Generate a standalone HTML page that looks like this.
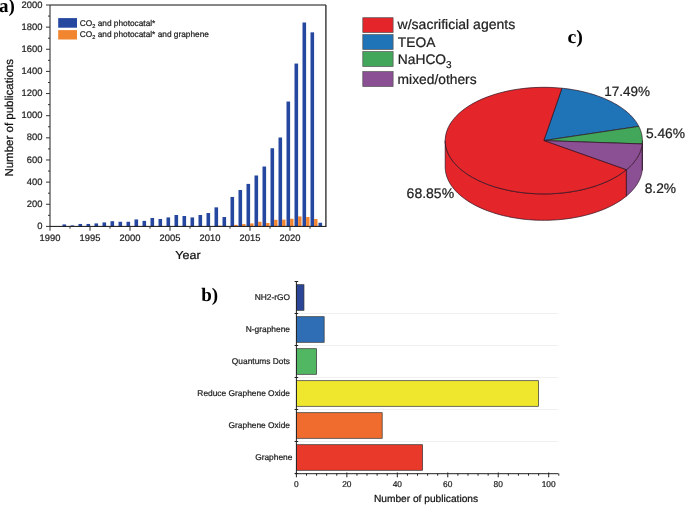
<!DOCTYPE html>
<html><head><meta charset="utf-8"><style>
html,body{margin:0;padding:0;background:#fff;}
body{width:685px;height:505px;overflow:hidden;}
svg{display:block;}
text{text-rendering:geometricPrecision;}
.s{stroke-width:0.22px;}
</style></head><body>
<svg width="685" height="505" viewBox="0 0 685 505">
<rect width="685" height="505" fill="#fff"/>
<rect x="62.50" y="224.41" width="3.6" height="1.99" fill="#2647a0"/>
<rect x="70.50" y="225.40" width="3.6" height="1.00" fill="#2647a0"/>
<rect x="78.50" y="223.96" width="3.6" height="2.44" fill="#2647a0"/>
<rect x="86.50" y="223.96" width="3.6" height="2.44" fill="#2647a0"/>
<rect x="94.50" y="223.41" width="3.6" height="2.99" fill="#2647a0"/>
<rect x="102.50" y="222.41" width="3.6" height="3.99" fill="#2647a0"/>
<rect x="110.50" y="221.20" width="3.6" height="5.20" fill="#2647a0"/>
<rect x="118.50" y="221.75" width="3.6" height="4.65" fill="#2647a0"/>
<rect x="126.50" y="221.75" width="3.6" height="4.65" fill="#2647a0"/>
<rect x="134.50" y="219.43" width="3.6" height="6.97" fill="#2647a0"/>
<rect x="142.50" y="220.87" width="3.6" height="5.54" fill="#2647a0"/>
<rect x="150.50" y="217.99" width="3.6" height="8.41" fill="#2647a0"/>
<rect x="158.50" y="218.98" width="3.6" height="7.42" fill="#2647a0"/>
<rect x="166.50" y="217.43" width="3.6" height="8.97" fill="#2647a0"/>
<rect x="174.50" y="215.00" width="3.6" height="11.40" fill="#2647a0"/>
<rect x="182.50" y="215.99" width="3.6" height="10.41" fill="#2647a0"/>
<rect x="190.50" y="217.43" width="3.6" height="8.97" fill="#2647a0"/>
<rect x="198.50" y="215.00" width="3.6" height="11.40" fill="#2647a0"/>
<rect x="206.50" y="213.01" width="3.6" height="13.39" fill="#2647a0"/>
<rect x="214.50" y="207.36" width="3.6" height="19.04" fill="#2647a0"/>
<rect x="222.50" y="216.99" width="3.6" height="9.41" fill="#2647a0"/>
<rect x="230.50" y="196.95" width="3.6" height="29.45" fill="#2647a0"/>
<rect x="238.50" y="189.98" width="3.6" height="36.42" fill="#2647a0"/>
<rect x="246.50" y="183.89" width="3.6" height="42.51" fill="#2647a0"/>
<rect x="254.50" y="175.48" width="3.6" height="50.92" fill="#2647a0"/>
<rect x="262.50" y="166.51" width="3.6" height="59.89" fill="#2647a0"/>
<rect x="270.50" y="148.25" width="3.6" height="78.15" fill="#2647a0"/>
<rect x="278.50" y="137.51" width="3.6" height="88.89" fill="#2647a0"/>
<rect x="286.50" y="101.53" width="3.6" height="124.87" fill="#2647a0"/>
<rect x="294.50" y="63.56" width="3.6" height="162.84" fill="#2647a0"/>
<rect x="302.50" y="22.49" width="3.6" height="203.91" fill="#2647a0"/>
<rect x="310.50" y="32.34" width="3.6" height="194.06" fill="#2647a0"/>
<rect x="318.50" y="222.75" width="3.6" height="3.65" fill="#2647a0"/>
<rect x="218.10" y="225.63" width="3.4" height="0.77" fill="#f28630"/>
<rect x="234.10" y="224.85" width="3.4" height="1.55" fill="#f28630"/>
<rect x="242.10" y="224.08" width="3.4" height="2.32" fill="#f28630"/>
<rect x="250.10" y="223.41" width="3.4" height="2.99" fill="#f28630"/>
<rect x="258.10" y="221.75" width="3.4" height="4.65" fill="#f28630"/>
<rect x="266.10" y="222.97" width="3.4" height="3.43" fill="#f28630"/>
<rect x="274.10" y="219.76" width="3.4" height="6.64" fill="#f28630"/>
<rect x="282.10" y="219.65" width="3.4" height="6.75" fill="#f28630"/>
<rect x="290.10" y="218.76" width="3.4" height="7.64" fill="#f28630"/>
<rect x="298.10" y="216.44" width="3.4" height="9.96" fill="#f28630"/>
<rect x="306.10" y="216.99" width="3.4" height="9.41" fill="#f28630"/>
<rect x="314.10" y="218.98" width="3.4" height="7.42" fill="#f28630"/>
<line x1="50.0" y1="5.0" x2="326.0" y2="5.0" stroke="#111" stroke-width="1.2"/>
<line x1="325.9" y1="5.0" x2="325.9" y2="226.4" stroke="#333" stroke-width="1.4"/>
<line x1="50.0" y1="5.0" x2="50.0" y2="226.4" stroke="#333" stroke-width="1.1"/>
<line x1="50.0" y1="226.4" x2="326.4" y2="226.4" stroke="#111" stroke-width="1"/>
<line x1="46.0" y1="226.40" x2="50.0" y2="226.40" stroke="#333" stroke-width="1"/>
<text x="42.4" y="229.00" text-anchor="end" font-size="9.4" fill="#222" stroke="#222" class="s" font-family="Liberation Sans, Arial, sans-serif">0</text>
<line x1="48.0" y1="215.33" x2="50.0" y2="215.33" stroke="#333" stroke-width="1"/>
<line x1="46.0" y1="204.26" x2="50.0" y2="204.26" stroke="#333" stroke-width="1"/>
<text x="42.4" y="206.86" text-anchor="end" font-size="9.4" fill="#222" stroke="#222" class="s" font-family="Liberation Sans, Arial, sans-serif">200</text>
<line x1="48.0" y1="193.19" x2="50.0" y2="193.19" stroke="#333" stroke-width="1"/>
<line x1="46.0" y1="182.12" x2="50.0" y2="182.12" stroke="#333" stroke-width="1"/>
<text x="42.4" y="184.72" text-anchor="end" font-size="9.4" fill="#222" stroke="#222" class="s" font-family="Liberation Sans, Arial, sans-serif">400</text>
<line x1="48.0" y1="171.05" x2="50.0" y2="171.05" stroke="#333" stroke-width="1"/>
<line x1="46.0" y1="159.98" x2="50.0" y2="159.98" stroke="#333" stroke-width="1"/>
<text x="42.4" y="162.58" text-anchor="end" font-size="9.4" fill="#222" stroke="#222" class="s" font-family="Liberation Sans, Arial, sans-serif">600</text>
<line x1="48.0" y1="148.91" x2="50.0" y2="148.91" stroke="#333" stroke-width="1"/>
<line x1="46.0" y1="137.84" x2="50.0" y2="137.84" stroke="#333" stroke-width="1"/>
<text x="42.4" y="140.44" text-anchor="end" font-size="9.4" fill="#222" stroke="#222" class="s" font-family="Liberation Sans, Arial, sans-serif">800</text>
<line x1="48.0" y1="126.77" x2="50.0" y2="126.77" stroke="#333" stroke-width="1"/>
<line x1="46.0" y1="115.70" x2="50.0" y2="115.70" stroke="#333" stroke-width="1"/>
<text x="42.4" y="118.30" text-anchor="end" font-size="9.4" fill="#222" stroke="#222" class="s" font-family="Liberation Sans, Arial, sans-serif">1000</text>
<line x1="48.0" y1="104.63" x2="50.0" y2="104.63" stroke="#333" stroke-width="1"/>
<line x1="46.0" y1="93.56" x2="50.0" y2="93.56" stroke="#333" stroke-width="1"/>
<text x="42.4" y="96.16" text-anchor="end" font-size="9.4" fill="#222" stroke="#222" class="s" font-family="Liberation Sans, Arial, sans-serif">1200</text>
<line x1="48.0" y1="82.49" x2="50.0" y2="82.49" stroke="#333" stroke-width="1"/>
<line x1="46.0" y1="71.42" x2="50.0" y2="71.42" stroke="#333" stroke-width="1"/>
<text x="42.4" y="74.02" text-anchor="end" font-size="9.4" fill="#222" stroke="#222" class="s" font-family="Liberation Sans, Arial, sans-serif">1400</text>
<line x1="48.0" y1="60.35" x2="50.0" y2="60.35" stroke="#333" stroke-width="1"/>
<line x1="46.0" y1="49.28" x2="50.0" y2="49.28" stroke="#333" stroke-width="1"/>
<text x="42.4" y="51.88" text-anchor="end" font-size="9.4" fill="#222" stroke="#222" class="s" font-family="Liberation Sans, Arial, sans-serif">1600</text>
<line x1="48.0" y1="38.21" x2="50.0" y2="38.21" stroke="#333" stroke-width="1"/>
<line x1="46.0" y1="27.14" x2="50.0" y2="27.14" stroke="#333" stroke-width="1"/>
<text x="42.4" y="29.74" text-anchor="end" font-size="9.4" fill="#222" stroke="#222" class="s" font-family="Liberation Sans, Arial, sans-serif">1800</text>
<line x1="48.0" y1="16.07" x2="50.0" y2="16.07" stroke="#333" stroke-width="1"/>
<line x1="46.0" y1="5.00" x2="50.0" y2="5.00" stroke="#333" stroke-width="1"/>
<text x="42.4" y="7.60" text-anchor="end" font-size="9.4" fill="#222" stroke="#222" class="s" font-family="Liberation Sans, Arial, sans-serif">2000</text>
<line x1="50.00" y1="226.4" x2="50.00" y2="230.8" stroke="#333" stroke-width="1"/>
<text x="50.00" y="241.3" text-anchor="middle" font-size="9.4" fill="#222" stroke="#222" class="s" font-family="Liberation Sans, Arial, sans-serif">1990</text>
<line x1="70.00" y1="226.4" x2="70.00" y2="228.70000000000002" stroke="#333" stroke-width="1"/>
<line x1="90.00" y1="226.4" x2="90.00" y2="230.8" stroke="#333" stroke-width="1"/>
<text x="90.00" y="241.3" text-anchor="middle" font-size="9.4" fill="#222" stroke="#222" class="s" font-family="Liberation Sans, Arial, sans-serif">1995</text>
<line x1="110.00" y1="226.4" x2="110.00" y2="228.70000000000002" stroke="#333" stroke-width="1"/>
<line x1="130.00" y1="226.4" x2="130.00" y2="230.8" stroke="#333" stroke-width="1"/>
<text x="130.00" y="241.3" text-anchor="middle" font-size="9.4" fill="#222" stroke="#222" class="s" font-family="Liberation Sans, Arial, sans-serif">2000</text>
<line x1="150.00" y1="226.4" x2="150.00" y2="228.70000000000002" stroke="#333" stroke-width="1"/>
<line x1="170.00" y1="226.4" x2="170.00" y2="230.8" stroke="#333" stroke-width="1"/>
<text x="170.00" y="241.3" text-anchor="middle" font-size="9.4" fill="#222" stroke="#222" class="s" font-family="Liberation Sans, Arial, sans-serif">2005</text>
<line x1="190.00" y1="226.4" x2="190.00" y2="228.70000000000002" stroke="#333" stroke-width="1"/>
<line x1="210.00" y1="226.4" x2="210.00" y2="230.8" stroke="#333" stroke-width="1"/>
<text x="210.00" y="241.3" text-anchor="middle" font-size="9.4" fill="#222" stroke="#222" class="s" font-family="Liberation Sans, Arial, sans-serif">2010</text>
<line x1="230.00" y1="226.4" x2="230.00" y2="228.70000000000002" stroke="#333" stroke-width="1"/>
<line x1="250.00" y1="226.4" x2="250.00" y2="230.8" stroke="#333" stroke-width="1"/>
<text x="250.00" y="241.3" text-anchor="middle" font-size="9.4" fill="#222" stroke="#222" class="s" font-family="Liberation Sans, Arial, sans-serif">2015</text>
<line x1="270.00" y1="226.4" x2="270.00" y2="228.70000000000002" stroke="#333" stroke-width="1"/>
<line x1="290.00" y1="226.4" x2="290.00" y2="230.8" stroke="#333" stroke-width="1"/>
<text x="290.00" y="241.3" text-anchor="middle" font-size="9.4" fill="#222" stroke="#222" class="s" font-family="Liberation Sans, Arial, sans-serif">2020</text>
<line x1="310.00" y1="226.4" x2="310.00" y2="228.70000000000002" stroke="#333" stroke-width="1"/>
<text x="188" y="258.8" text-anchor="middle" font-size="11.6" textLength="25.3" lengthAdjust="spacingAndGlyphs" fill="#111" stroke="#111" class="s" font-family="Liberation Sans, Arial, sans-serif">Year</text>
<text transform="translate(13.0,117.8) rotate(-90)" x="0" y="0" text-anchor="middle" font-size="11.5" fill="#111" stroke="#111" class="s" font-family="Liberation Sans, Arial, sans-serif">Number of publications</text>
<rect x="58.2" y="18.1" width="18.8" height="9.6" fill="#2647a0"/>
<rect x="58.2" y="30.1" width="18.8" height="9.4" fill="#f28630"/>
<text x="79.8" y="26" font-size="8.3" fill="#222" stroke="#222" class="s" font-family="Liberation Sans, Arial, sans-serif">CO<tspan font-size="5.6" dy="2">2</tspan><tspan dy="-2"> and photocatal*</tspan></text>
<text x="79.8" y="37.2" font-size="8.3" fill="#222" stroke="#222" class="s" font-family="Liberation Sans, Arial, sans-serif">CO<tspan font-size="5.6" dy="2">2</tspan><tspan dy="-2"> and photocatal* and graphene</tspan></text>
<text x="-1" y="12.3" font-size="19" font-weight="bold" fill="#000" font-family="Liberation Serif, Times New Roman, serif">a)</text>
<path d="M642.40 140.60 L642.40 140.66 L642.40 140.71 L642.40 140.77 L642.40 140.82 L642.40 140.88 L642.40 140.93 L642.40 140.99 L642.40 141.05 L642.40 141.10 L642.39 141.16 L642.39 141.21 L642.39 141.27 L642.39 141.33 L642.39 141.38 L642.39 141.44 L642.39 141.49 L642.38 141.55 L642.38 141.60 L642.38 141.66 L642.38 141.72 L642.38 141.77 L642.37 141.83 L642.37 141.88 L642.37 141.94 L642.37 142.00 L642.36 142.05 L642.36 142.11 L642.36 142.16 L642.35 142.22 L642.35 142.27 L642.35 142.33 L642.34 142.39 L642.34 142.44 L642.34 142.50 L642.33 142.55 L642.33 142.61 L642.33 142.66 L642.32 142.72 L642.32 142.78 L642.31 142.83 L642.31 142.89 L642.30 142.94 L642.30 143.00 L642.30 143.06 L642.29 143.11 L642.29 143.17 L642.28 143.22 L642.28 143.28 L642.27 143.33 L642.26 143.39 L642.26 143.45 L642.25 143.50 L642.25 143.56 L642.24 143.61 L642.24 143.67 L642.23 143.72 L642.22 143.78 L642.22 143.84 L642.21 143.89 L642.21 143.95 L642.21 170.35 L642.21 170.29 L642.22 170.24 L642.22 170.18 L642.23 170.12 L642.24 170.07 L642.24 170.01 L642.25 169.96 L642.25 169.90 L642.26 169.85 L642.26 169.79 L642.27 169.73 L642.28 169.68 L642.28 169.62 L642.29 169.57 L642.29 169.51 L642.30 169.46 L642.30 169.40 L642.30 169.34 L642.31 169.29 L642.31 169.23 L642.32 169.18 L642.32 169.12 L642.33 169.06 L642.33 169.01 L642.33 168.95 L642.34 168.90 L642.34 168.84 L642.34 168.79 L642.35 168.73 L642.35 168.67 L642.35 168.62 L642.36 168.56 L642.36 168.51 L642.36 168.45 L642.37 168.40 L642.37 168.34 L642.37 168.28 L642.37 168.23 L642.38 168.17 L642.38 168.12 L642.38 168.06 L642.38 168.00 L642.38 167.95 L642.39 167.89 L642.39 167.84 L642.39 167.78 L642.39 167.73 L642.39 167.67 L642.39 167.61 L642.39 167.56 L642.40 167.50 L642.40 167.45 L642.40 167.39 L642.40 167.33 L642.40 167.28 L642.40 167.22 L642.40 167.17 L642.40 167.11 L642.40 167.06 L642.40 167.00Z" fill="#42a75a" stroke="#2a1020" stroke-width="0.7" stroke-linejoin="round"/>
<path d="M642.21 143.95 L642.15 144.40 L642.08 144.86 L642.01 145.32 L641.93 145.78 L641.85 146.23 L641.75 146.69 L641.65 147.14 L641.55 147.60 L641.43 148.05 L641.31 148.51 L641.18 148.96 L641.04 149.42 L640.90 149.87 L640.75 150.32 L640.59 150.77 L640.42 151.22 L640.25 151.67 L640.07 152.12 L639.88 152.57 L639.69 153.01 L639.49 153.46 L639.28 153.90 L639.06 154.35 L638.84 154.79 L638.61 155.23 L638.38 155.67 L638.13 156.11 L637.88 156.55 L637.62 156.99 L637.36 157.42 L637.09 157.86 L636.81 158.29 L636.52 158.72 L636.23 159.16 L635.93 159.59 L635.63 160.01 L635.31 160.44 L635.00 160.87 L634.67 161.29 L634.34 161.71 L634.00 162.13 L633.65 162.55 L633.30 162.97 L632.94 163.38 L632.57 163.80 L632.20 164.21 L631.82 164.62 L631.43 165.03 L631.04 165.44 L630.64 165.84 L630.24 166.24 L629.83 166.65 L629.41 167.05 L628.98 167.44 L628.55 167.84 L628.12 168.23 L627.67 168.62 L627.22 169.01 L626.77 169.40 L626.30 169.79 L626.30 196.19 L626.77 195.80 L627.22 195.41 L627.67 195.02 L628.12 194.63 L628.55 194.24 L628.98 193.84 L629.41 193.45 L629.83 193.05 L630.24 192.64 L630.64 192.24 L631.04 191.84 L631.43 191.43 L631.82 191.02 L632.20 190.61 L632.57 190.20 L632.94 189.78 L633.30 189.37 L633.65 188.95 L634.00 188.53 L634.34 188.11 L634.67 187.69 L635.00 187.27 L635.31 186.84 L635.63 186.41 L635.93 185.99 L636.23 185.56 L636.52 185.12 L636.81 184.69 L637.09 184.26 L637.36 183.82 L637.62 183.39 L637.88 182.95 L638.13 182.51 L638.38 182.07 L638.61 181.63 L638.84 181.19 L639.06 180.75 L639.28 180.30 L639.49 179.86 L639.69 179.41 L639.88 178.97 L640.07 178.52 L640.25 178.07 L640.42 177.62 L640.59 177.17 L640.75 176.72 L640.90 176.27 L641.04 175.82 L641.18 175.36 L641.31 174.91 L641.43 174.45 L641.55 174.00 L641.65 173.54 L641.75 173.09 L641.85 172.63 L641.93 172.18 L642.01 171.72 L642.08 171.26 L642.15 170.80 L642.21 170.35Z" fill="#8b4f93" stroke="#2a1020" stroke-width="0.7" stroke-linejoin="round"/>
<path d="M626.30 169.79 L623.92 171.66 L621.40 173.48 L618.73 175.24 L615.93 176.94 L612.99 178.57 L609.93 180.13 L606.75 181.62 L603.45 183.04 L600.04 184.38 L596.54 185.64 L592.93 186.81 L589.24 187.90 L585.46 188.91 L581.61 189.83 L577.68 190.65 L573.70 191.39 L569.66 192.03 L565.58 192.58 L561.45 193.04 L557.30 193.40 L553.11 193.66 L548.91 193.83 L544.71 193.90 L540.50 193.87 L536.29 193.75 L532.10 193.52 L527.93 193.21 L523.79 192.79 L519.69 192.28 L515.63 191.68 L511.62 190.98 L507.67 190.19 L503.79 189.31 L499.98 188.35 L496.25 187.29 L492.60 186.15 L489.05 184.93 L485.60 183.63 L482.26 182.24 L479.03 180.79 L475.91 179.25 L472.92 177.65 L470.06 175.98 L467.33 174.25 L464.74 172.45 L462.30 170.60 L460.01 168.69 L457.86 166.73 L455.88 164.73 L454.05 162.67 L452.39 160.58 L450.90 158.46 L449.57 156.30 L448.42 154.11 L447.44 151.89 L446.63 149.66 L446.01 147.41 L445.56 145.15 L445.29 142.88 L445.20 140.60 L445.20 167.00 L445.29 169.28 L445.56 171.55 L446.01 173.81 L446.63 176.06 L447.44 178.29 L448.42 180.51 L449.57 182.70 L450.90 184.86 L452.39 186.98 L454.05 189.07 L455.88 191.13 L457.86 193.13 L460.01 195.09 L462.30 197.00 L464.74 198.85 L467.33 200.65 L470.06 202.38 L472.92 204.05 L475.91 205.65 L479.03 207.19 L482.26 208.64 L485.60 210.03 L489.05 211.33 L492.60 212.55 L496.25 213.69 L499.98 214.75 L503.79 215.71 L507.67 216.59 L511.62 217.38 L515.63 218.08 L519.69 218.68 L523.79 219.19 L527.93 219.61 L532.10 219.92 L536.29 220.15 L540.50 220.27 L544.71 220.30 L548.91 220.23 L553.11 220.06 L557.30 219.80 L561.45 219.44 L565.58 218.98 L569.66 218.43 L573.70 217.79 L577.68 217.05 L581.61 216.23 L585.46 215.31 L589.24 214.30 L592.93 213.21 L596.54 212.04 L600.04 210.78 L603.45 209.44 L606.75 208.02 L609.93 206.53 L612.99 204.97 L615.93 203.34 L618.73 201.64 L621.40 199.88 L623.92 198.06 L626.30 196.19Z" fill="#e4252a" stroke="#2a1020" stroke-width="0.7" stroke-linejoin="round"/>
<path d="M543.80 140.60 L561.94 88.21 L563.74 88.40 L565.53 88.61 L567.31 88.84 L569.09 89.08 L570.85 89.35 L572.61 89.63 L574.36 89.92 L576.10 90.24 L577.82 90.57 L579.54 90.92 L581.24 91.29 L582.93 91.68 L584.60 92.08 L586.26 92.50 L587.91 92.93 L589.54 93.38 L591.16 93.85 L592.76 94.33 L594.34 94.83 L595.90 95.35 L597.45 95.88 L598.98 96.43 L600.49 96.99 L601.98 97.57 L603.45 98.16 L604.90 98.77 L606.32 99.39 L607.73 100.02 L609.12 100.67 L610.48 101.33 L611.82 102.01 L613.13 102.70 L614.42 103.40 L615.69 104.12 L616.93 104.85 L618.15 105.59 L619.34 106.34 L620.50 107.11 L621.64 107.88 L622.75 108.67 L623.84 109.47 L624.89 110.28 L625.92 111.10 L626.92 111.93 L627.89 112.77 L628.84 113.62 L629.75 114.48 L630.63 115.35 L631.48 116.22 L632.31 117.11 L633.10 118.00 L633.86 118.90 L634.59 119.81 L635.29 120.73 L635.96 121.65 L636.59 122.58 L637.20 123.52 L637.77 124.46 L638.31 125.40 L638.81 126.36Z" fill="#1f74b8" stroke="#2a1020" stroke-width="0.7" stroke-linejoin="round"/>
<path d="M543.80 140.60 L638.81 126.36 L638.96 126.64 L639.10 126.93 L639.24 127.21 L639.38 127.50 L639.51 127.79 L639.64 128.08 L639.77 128.36 L639.89 128.65 L640.01 128.94 L640.13 129.23 L640.25 129.52 L640.36 129.81 L640.47 130.10 L640.57 130.39 L640.68 130.68 L640.78 130.97 L640.88 131.26 L640.97 131.56 L641.06 131.85 L641.15 132.14 L641.24 132.43 L641.32 132.72 L641.40 133.02 L641.47 133.31 L641.55 133.60 L641.62 133.90 L641.68 134.19 L641.75 134.49 L641.81 134.78 L641.87 135.07 L641.92 135.37 L641.98 135.66 L642.03 135.96 L642.07 136.25 L642.11 136.55 L642.15 136.84 L642.19 137.14 L642.23 137.44 L642.26 137.73 L642.29 138.03 L642.31 138.32 L642.33 138.62 L642.35 138.91 L642.37 139.21 L642.38 139.51 L642.39 139.80 L642.40 140.10 L642.40 140.40 L642.40 140.69 L642.40 140.99 L642.39 141.28 L642.38 141.58 L642.37 141.88 L642.36 142.17 L642.34 142.47 L642.32 142.76 L642.29 143.06 L642.27 143.36 L642.24 143.65 L642.21 143.95Z" fill="#42a75a" stroke="#2a1020" stroke-width="0.7" stroke-linejoin="round"/>
<path d="M543.80 140.60 L642.21 143.95 L642.15 144.40 L642.08 144.86 L642.01 145.32 L641.93 145.78 L641.85 146.23 L641.75 146.69 L641.65 147.14 L641.55 147.60 L641.43 148.05 L641.31 148.51 L641.18 148.96 L641.04 149.42 L640.90 149.87 L640.75 150.32 L640.59 150.77 L640.42 151.22 L640.25 151.67 L640.07 152.12 L639.88 152.57 L639.69 153.01 L639.49 153.46 L639.28 153.90 L639.06 154.35 L638.84 154.79 L638.61 155.23 L638.38 155.67 L638.13 156.11 L637.88 156.55 L637.62 156.99 L637.36 157.42 L637.09 157.86 L636.81 158.29 L636.52 158.72 L636.23 159.16 L635.93 159.59 L635.63 160.01 L635.31 160.44 L635.00 160.87 L634.67 161.29 L634.34 161.71 L634.00 162.13 L633.65 162.55 L633.30 162.97 L632.94 163.38 L632.57 163.80 L632.20 164.21 L631.82 164.62 L631.43 165.03 L631.04 165.44 L630.64 165.84 L630.24 166.24 L629.83 166.65 L629.41 167.05 L628.98 167.44 L628.55 167.84 L628.12 168.23 L627.67 168.62 L627.22 169.01 L626.77 169.40 L626.30 169.79Z" fill="#8b4f93" stroke="#2a1020" stroke-width="0.7" stroke-linejoin="round"/>
<path d="M543.80 140.60 L626.30 169.79 L622.21 172.92 L617.71 175.88 L612.82 178.66 L607.58 181.25 L602.01 183.62 L596.14 185.77 L589.99 187.69 L583.61 189.36 L577.02 190.78 L570.26 191.94 L563.36 192.84 L556.36 193.47 L549.30 193.82 L542.21 193.89 L535.12 193.69 L528.08 193.22 L521.12 192.47 L514.28 191.46 L507.59 190.18 L501.09 188.64 L494.81 186.86 L488.79 184.83 L483.05 182.58 L477.62 180.11 L472.54 177.44 L467.82 174.57 L463.50 171.53 L459.59 168.33 L456.12 164.98 L453.11 161.51 L450.56 157.93 L448.49 154.26 L446.92 150.52 L445.85 146.73 L445.29 142.91 L445.24 139.07 L445.70 135.25 L446.66 131.45 L448.13 127.70 L450.10 124.01 L452.55 120.41 L455.47 116.92 L458.85 113.55 L462.66 110.31 L466.90 107.24 L471.54 104.34 L476.55 101.62 L481.91 99.11 L487.59 96.81 L493.56 94.74 L499.79 92.90 L506.25 91.32 L512.90 89.98 L519.71 88.91 L526.65 88.11 L533.68 87.58 L540.75 87.33 L547.85 87.34 L554.92 87.64 L561.94 88.21Z" fill="#e4252a" stroke="#2a1020" stroke-width="0.7" stroke-linejoin="round"/>
<text x="604.2" y="95.8" font-size="13.5" fill="#222" stroke="#222" class="s" font-family="Liberation Sans, Arial, sans-serif">17.49%</text>
<text x="645.9" y="138" font-size="13.8" fill="#222" stroke="#222" class="s" font-family="Liberation Sans, Arial, sans-serif">5.46%</text>
<text x="644.7" y="193.2" font-size="13.8" fill="#222" stroke="#222" class="s" font-family="Liberation Sans, Arial, sans-serif">8.2%</text>
<text x="406.6" y="198.3" font-size="14" fill="#222" stroke="#222" class="s" font-family="Liberation Sans, Arial, sans-serif">68.85%</text>
<rect x="362.8" y="17.7" width="30.3" height="14.9" fill="#e4252a" stroke="#555" stroke-width="0.7"/>
<rect x="362.8" y="34.6" width="30.3" height="14.9" fill="#1f74b8" stroke="#555" stroke-width="0.7"/>
<rect x="362.8" y="51.6" width="30.3" height="14.9" fill="#42a75a" stroke="#555" stroke-width="0.7"/>
<rect x="362.8" y="71.6" width="30.3" height="14.9" fill="#8b4f93" stroke="#555" stroke-width="0.7"/>
<text x="397.6" y="29.4" font-size="13.8" textLength="117.6" lengthAdjust="spacingAndGlyphs" fill="#222" stroke="#222" class="s" font-family="Liberation Sans, Arial, sans-serif">w/sacrificial agents</text>
<text x="397.8" y="46.6" font-size="13.8" fill="#222" stroke="#222" class="s" font-family="Liberation Sans, Arial, sans-serif">TEOA</text>
<text x="397.8" y="63.6" font-size="13.8" fill="#222" stroke="#222" class="s" font-family="Liberation Sans, Arial, sans-serif">NaHCO<tspan font-size="10" dy="4">3</tspan></text>
<text x="397.6" y="83.6" font-size="13.8" fill="#222" stroke="#222" class="s" font-family="Liberation Sans, Arial, sans-serif">mixed/others</text>
<text x="567.4" y="43.2" font-size="19" textLength="15.4" lengthAdjust="spacingAndGlyphs" font-weight="bold" fill="#000" font-family="Liberation Serif, Times New Roman, serif">c)</text>
<line x1="296.4" y1="313.50" x2="558.3" y2="313.50" stroke="#e4e4e4" stroke-width="0.9" stroke-dasharray="1.2,0.8"/>
<line x1="296.4" y1="345.50" x2="558.3" y2="345.50" stroke="#e4e4e4" stroke-width="0.9" stroke-dasharray="1.2,0.8"/>
<line x1="296.4" y1="377.50" x2="558.3" y2="377.50" stroke="#e4e4e4" stroke-width="0.9" stroke-dasharray="1.2,0.8"/>
<line x1="296.4" y1="409.50" x2="558.3" y2="409.50" stroke="#e4e4e4" stroke-width="0.9" stroke-dasharray="1.2,0.8"/>
<line x1="296.4" y1="441.50" x2="558.3" y2="441.50" stroke="#e4e4e4" stroke-width="0.9" stroke-dasharray="1.2,0.8"/>
<rect x="296.4" y="284.70" width="7.57" height="25.60" fill="#2c4697" stroke="#333" stroke-width="0.7"/>
<text x="290" y="299.50" text-anchor="end" font-size="8.4" fill="#222" stroke="#222" class="s" font-family="Liberation Sans, Arial, sans-serif">NH2-rGO</text>
<rect x="296.4" y="316.70" width="27.75" height="25.60" fill="#2f6db5" stroke="#333" stroke-width="0.7"/>
<text x="290" y="331.50" text-anchor="end" font-size="8.4" fill="#222" stroke="#222" class="s" font-family="Liberation Sans, Arial, sans-serif">N-graphene</text>
<rect x="296.4" y="348.70" width="20.18" height="25.60" fill="#52b763" stroke="#333" stroke-width="0.7"/>
<text x="290" y="363.50" text-anchor="end" font-size="8.4" fill="#222" stroke="#222" class="s" font-family="Liberation Sans, Arial, sans-serif">Quantums Dots</text>
<rect x="296.4" y="380.70" width="242.21" height="25.60" fill="#efe62e" stroke="#333" stroke-width="0.7"/>
<text x="290" y="395.50" text-anchor="end" font-size="8.4" fill="#222" stroke="#222" class="s" font-family="Liberation Sans, Arial, sans-serif">Reduce Graphene Oxide</text>
<rect x="296.4" y="412.70" width="85.78" height="25.60" fill="#ef6c2e" stroke="#333" stroke-width="0.7"/>
<text x="290" y="427.50" text-anchor="end" font-size="8.4" fill="#222" stroke="#222" class="s" font-family="Liberation Sans, Arial, sans-serif">Graphene Oxide</text>
<rect x="296.4" y="444.70" width="126.15" height="25.60" fill="#e8392b" stroke="#333" stroke-width="0.7"/>
<text x="292.4" y="459.50" text-anchor="end" font-size="8.4" fill="#222" stroke="#222" class="s" font-family="Liberation Sans, Arial, sans-serif">Graphene</text>
<line x1="296.4" y1="281.5" x2="296.4" y2="473.7" stroke="#222" stroke-width="1"/>
<line x1="294.9" y1="473.7" x2="558.3" y2="473.7" stroke="#222" stroke-width="1"/>
<line x1="294.59999999999997" y1="281.50" x2="298.2" y2="281.50" stroke="#222" stroke-width="1"/>
<line x1="294.59999999999997" y1="313.50" x2="298.2" y2="313.50" stroke="#222" stroke-width="1"/>
<line x1="294.59999999999997" y1="345.50" x2="298.2" y2="345.50" stroke="#222" stroke-width="1"/>
<line x1="294.59999999999997" y1="377.50" x2="298.2" y2="377.50" stroke="#222" stroke-width="1"/>
<line x1="294.59999999999997" y1="409.50" x2="298.2" y2="409.50" stroke="#222" stroke-width="1"/>
<line x1="294.59999999999997" y1="441.50" x2="298.2" y2="441.50" stroke="#222" stroke-width="1"/>
<line x1="294.59999999999997" y1="473.50" x2="298.2" y2="473.50" stroke="#222" stroke-width="1"/>
<line x1="296.40" y1="472.5" x2="296.40" y2="477.3" stroke="#222" stroke-width="1"/>
<text x="296.40" y="487" text-anchor="middle" font-size="8.4" fill="#222" stroke="#222" class="s" font-family="Liberation Sans, Arial, sans-serif">0</text>
<line x1="306.49" y1="473.5" x2="306.49" y2="475.7" stroke="#222" stroke-width="1"/>
<line x1="316.58" y1="473.5" x2="316.58" y2="475.7" stroke="#222" stroke-width="1"/>
<line x1="326.68" y1="473.5" x2="326.68" y2="475.7" stroke="#222" stroke-width="1"/>
<line x1="336.77" y1="473.5" x2="336.77" y2="475.7" stroke="#222" stroke-width="1"/>
<line x1="346.86" y1="472.5" x2="346.86" y2="477.3" stroke="#222" stroke-width="1"/>
<text x="346.86" y="487" text-anchor="middle" font-size="8.4" fill="#222" stroke="#222" class="s" font-family="Liberation Sans, Arial, sans-serif">20</text>
<line x1="356.95" y1="473.5" x2="356.95" y2="475.7" stroke="#222" stroke-width="1"/>
<line x1="367.04" y1="473.5" x2="367.04" y2="475.7" stroke="#222" stroke-width="1"/>
<line x1="377.14" y1="473.5" x2="377.14" y2="475.7" stroke="#222" stroke-width="1"/>
<line x1="387.23" y1="473.5" x2="387.23" y2="475.7" stroke="#222" stroke-width="1"/>
<line x1="397.32" y1="472.5" x2="397.32" y2="477.3" stroke="#222" stroke-width="1"/>
<text x="397.32" y="487" text-anchor="middle" font-size="8.4" fill="#222" stroke="#222" class="s" font-family="Liberation Sans, Arial, sans-serif">40</text>
<line x1="407.41" y1="473.5" x2="407.41" y2="475.7" stroke="#222" stroke-width="1"/>
<line x1="417.50" y1="473.5" x2="417.50" y2="475.7" stroke="#222" stroke-width="1"/>
<line x1="427.60" y1="473.5" x2="427.60" y2="475.7" stroke="#222" stroke-width="1"/>
<line x1="437.69" y1="473.5" x2="437.69" y2="475.7" stroke="#222" stroke-width="1"/>
<line x1="447.78" y1="472.5" x2="447.78" y2="477.3" stroke="#222" stroke-width="1"/>
<text x="447.78" y="487" text-anchor="middle" font-size="8.4" fill="#222" stroke="#222" class="s" font-family="Liberation Sans, Arial, sans-serif">60</text>
<line x1="457.87" y1="473.5" x2="457.87" y2="475.7" stroke="#222" stroke-width="1"/>
<line x1="467.96" y1="473.5" x2="467.96" y2="475.7" stroke="#222" stroke-width="1"/>
<line x1="478.06" y1="473.5" x2="478.06" y2="475.7" stroke="#222" stroke-width="1"/>
<line x1="488.15" y1="473.5" x2="488.15" y2="475.7" stroke="#222" stroke-width="1"/>
<line x1="498.24" y1="472.5" x2="498.24" y2="477.3" stroke="#222" stroke-width="1"/>
<text x="498.24" y="487" text-anchor="middle" font-size="8.4" fill="#222" stroke="#222" class="s" font-family="Liberation Sans, Arial, sans-serif">80</text>
<line x1="508.33" y1="473.5" x2="508.33" y2="475.7" stroke="#222" stroke-width="1"/>
<line x1="518.42" y1="473.5" x2="518.42" y2="475.7" stroke="#222" stroke-width="1"/>
<line x1="528.52" y1="473.5" x2="528.52" y2="475.7" stroke="#222" stroke-width="1"/>
<line x1="538.61" y1="473.5" x2="538.61" y2="475.7" stroke="#222" stroke-width="1"/>
<line x1="548.70" y1="472.5" x2="548.70" y2="477.3" stroke="#222" stroke-width="1"/>
<text x="548.70" y="487" text-anchor="middle" font-size="8.4" fill="#222" stroke="#222" class="s" font-family="Liberation Sans, Arial, sans-serif">100</text>
<line x1="558.79" y1="473.5" x2="558.79" y2="475.7" stroke="#222" stroke-width="1"/>
<text x="426" y="502" text-anchor="middle" font-size="10.2" fill="#111" stroke="#111" class="s" font-family="Liberation Sans, Arial, sans-serif">Number of publications</text>
<text x="201.2" y="300.8" font-size="19" font-weight="bold" fill="#000" font-family="Liberation Serif, Times New Roman, serif">b)</text>
</svg>
</body></html>
